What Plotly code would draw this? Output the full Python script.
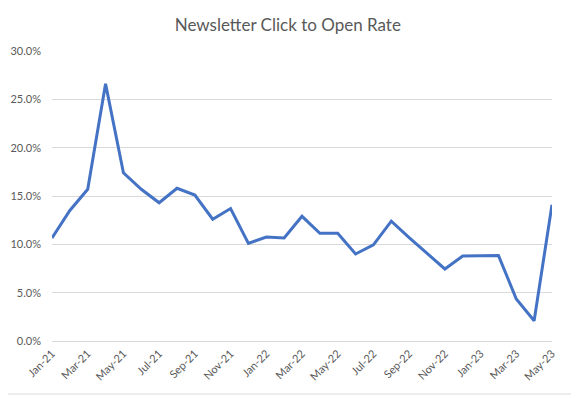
import plotly.graph_objects as go

months = ["Jan-21", "Feb-21", "Mar-21", "Apr-21", "May-21", "Jun-21", "Jul-21", "Aug-21",
          "Sep-21", "Oct-21", "Nov-21", "Dec-21", "Jan-22", "Feb-22", "Mar-22", "Apr-22",
          "May-22", "Jun-22", "Jul-22", "Aug-22", "Sep-22", "Oct-22", "Nov-22", "Dec-22",
          "Jan-23", "Feb-23", "Mar-23", "Apr-23", "May-23"]
ctor = [0.1065, 0.135, 0.157, 0.266, 0.174, 0.157, 0.143, 0.158,
        0.151, 0.126, 0.137, 0.101, 0.1075, 0.1065, 0.129, 0.1115,
        0.1115, 0.090, 0.0995, 0.124, 0.107, 0.091, 0.0745, 0.088,
        0.088, 0.0885, 0.0435, 0.021, 0.141]
y_ticks = [0, 0.05, 0.10, 0.15, 0.20, 0.25, 0.30]
x_ticks = months[::2]

fig = go.Figure()
fig.add_trace(go.Scatter(
    x=months, y=ctor, mode="lines",
    line=dict(color="#4472C4", width=3),
    hoverinfo="x+y",
))

W, H = 571, 390
L, R, T, B = 44, 27, 43, 57
pw, ph = W - L - R, H - T - B
bx = (566 - L) / pw
by = -(386 - (H - B)) / ph

font_family = "Lato, 'Open Sans', sans-serif"
fig.update_layout(
    width=W, height=H,
    margin=dict(l=L, r=R, t=T, b=B, autoexpand=False),
    paper_bgcolor="white", plot_bgcolor="white",
    showlegend=False,
    font=dict(family=font_family, color="#595959", size=11),
    title=dict(text="Newsletter Click to Open Rate", x=0.49, xanchor="center",
               y=1 - 17 / H, yanchor="middle",
               font=dict(family=font_family, size=17, color="#595959")),
    xaxis=dict(
        type="category", categoryorder="array", categoryarray=months,
        range=[0, len(months) - 1], automargin=False,
        tickmode="array", tickvals=x_ticks, ticktext=x_ticks,
        tickangle=-45, showgrid=False, zeroline=False,
        showline=False, ticks="", ticklen=0, ticklabelstandoff=3,
        tickfont=dict(size=11, color="#595959"),
    ),
    yaxis=dict(
        range=[0, 0.30], tickmode="array", tickvals=y_ticks, automargin=False,
        tickformat=".1%", showgrid=True, gridcolor="#D9D9D9", gridwidth=1,
        zeroline=True, zerolinecolor="#D9D9D9", zerolinewidth=1,
        showline=False, ticks="", ticklabelstandoff=10,
        tickfont=dict(size=11, color="#595959"),
    ),
    shapes=[
        dict(type="line", xref="paper", yref="paper",
             x0=-L / pw, x1=bx, y0=by, y1=by,
             line=dict(color="#D9D9D9", width=1), layer="below"),
        dict(type="line", xref="paper", yref="paper",
             x0=bx, x1=bx, y0=by, y1=1 + T / ph,
             line=dict(color="#D9D9D9", width=1), layer="below"),
    ],
)

fig.write_html("out.html")
